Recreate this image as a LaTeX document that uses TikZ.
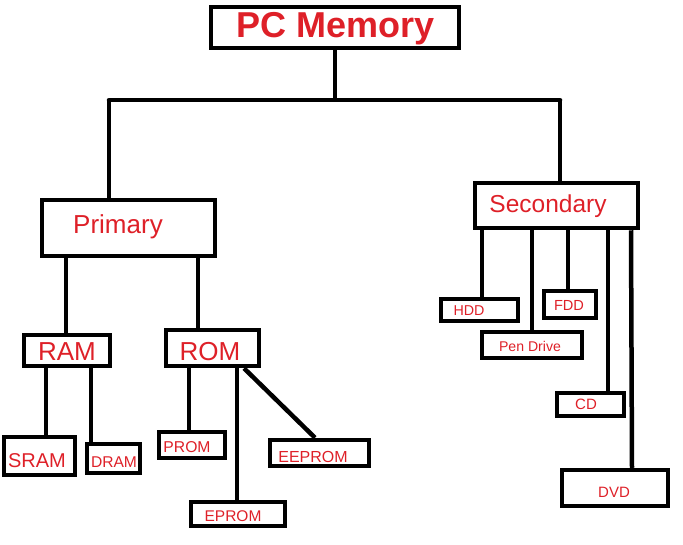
\documentclass[tikz,border=0pt]{standalone}
\usepackage{fontspec}
\setmainfont{Liberation Sans}
\definecolor{pcred}{RGB}{222,32,40}
\begin{document}
\begin{tikzpicture}[x=1pt,y=-1pt,
  box/.style={draw=black,line width=4.5pt,inner sep=0pt,minimum width=#1},
  lbl/.style={text=pcred,inner sep=0pt,anchor=base},
  wire/.style={line width=4.5pt,draw=black}]
\useasboundingbox (0,0) rectangle (683,544);
% boxes
\node[box=248pt,minimum height=41pt] (pcm) at (335,27.5) {};
\node[box=173pt,minimum height=56pt] (prim) at (128.5,228) {};
\node[box=163pt,minimum height=45pt] (sec) at (556.5,205.5) {};
\node[box=86pt,minimum height=31pt] (ram) at (67,350.5) {};
\node[box=93pt,minimum height=36pt] (rom) at (212.5,348) {};
\node[box=71pt,minimum height=38pt] (sram) at (39.5,456) {};
\node[box=53pt,minimum height=29pt] (dram) at (113.5,458.5) {};
\node[box=66pt,minimum height=26pt] (prom) at (192,445) {};
\node[box=94pt,minimum height=24pt] (eprom) at (238,514) {};
\node[box=99pt,minimum height=26pt] (eeprom) at (319.5,453) {};
\node[box=77pt,minimum height=22pt] (hdd) at (479.5,310) {};
\node[box=100pt,minimum height=26pt] (pen) at (532,345) {};
\node[box=52pt,minimum height=27pt] (fdd) at (570,304.5) {};
\node[box=67pt,minimum height=23pt] (cd) at (590.5,404.5) {};
\node[box=106pt,minimum height=36pt] (dvd) at (615,488) {};
% labels
\node[lbl,font=\bfseries\fontsize{36}{36}\selectfont] (tpcm) at (336,37) {PC Memory};
\node[lbl,font=\fontsize{26}{26}\selectfont] (tprim) at (118,233) {Primary};
\node[lbl,font=\fontsize{24.5}{24.5}\selectfont] (tsec) at (548,212) {Secondary};
\node[lbl,font=\fontsize{26}{26}\selectfont] (tram) at (67,360) {RAM};
\node[lbl,font=\fontsize{26}{26}\selectfont] (trom) at (210,360) {ROM};
\node[lbl,font=\fontsize{20}{20}\selectfont] (tsram) at (37,467) {SRAM};
\node[lbl,font=\fontsize{15.6}{15.6}\selectfont] (tdram) at (114,467) {DRAM};
\node[lbl,font=\fontsize{15.7}{15.7}\selectfont] (tprom) at (187,452) {PROM};
\node[lbl,font=\fontsize{15.5}{15.5}\selectfont] (teprom) at (233,521) {EPROM};
\node[lbl,font=\fontsize{16}{16}\selectfont] (teeprom) at (313,462) {EEPROM};
\node[lbl,font=\fontsize{14.3}{14.3}\selectfont] (thdd) at (469,315) {HDD};
\node[lbl,font=\fontsize{14.1}{14.1}\selectfont] (tpen) at (530,351) {Pen Drive};
\node[lbl,font=\fontsize{14.6}{14.6}\selectfont] (tfdd) at (569,310) {FDD};
\node[lbl,font=\fontsize{15}{15}\selectfont] (tcd) at (586,409) {CD};
\node[lbl,font=\fontsize{15}{15}\selectfont] (tdvd) at (614,497) {DVD};
% tree junctions
\coordinate (jl) at (109,100);
\coordinate (jr) at (560,100);
\draw[wire] (pcm.south) -- (pcm.south |- jl);
\draw[wire,line cap=round] (jl) -- (jr);
\draw[wire] (jl) -- (jl |- prim.north);
\draw[wire] (jr) -- (jr |- sec.north);
% primary
\draw[wire] (prim.south -| 66,0) -- (ram.north -| 66,0);
\draw[wire] (prim.south -| 198,0) -- (rom.north -| 198,0);
\draw[wire] (ram.south -| 46,0) -- (sram.north -| 46,0);
\draw[wire] (ram.south -| 91,0) -- (dram.north -| 91,0);
\draw[wire] (rom.south -| 189,0) -- (prom.north -| 189,0);
\draw[wire] (rom.south -| 237,0) -- (eprom.north -| 237,0);
\draw[wire] (rom.south -| 244,0) -- (eeprom.north -| 315,0);
% secondary
\draw[wire] (sec.south -| 482,0) -- (hdd.north -| 482,0);
\draw[wire] (sec.south -| 532,0) -- (pen.north -| 532,0);
\draw[wire] (sec.south -| 568,0) -- (fdd.north -| 568,0);
\draw[wire] (sec.south -| 608,0) -- (cd.north -| 608,0);
\draw[wire] (sec.south -| 631,0) -- (dvd.north -| 632,0);
\end{tikzpicture}
\end{document}
